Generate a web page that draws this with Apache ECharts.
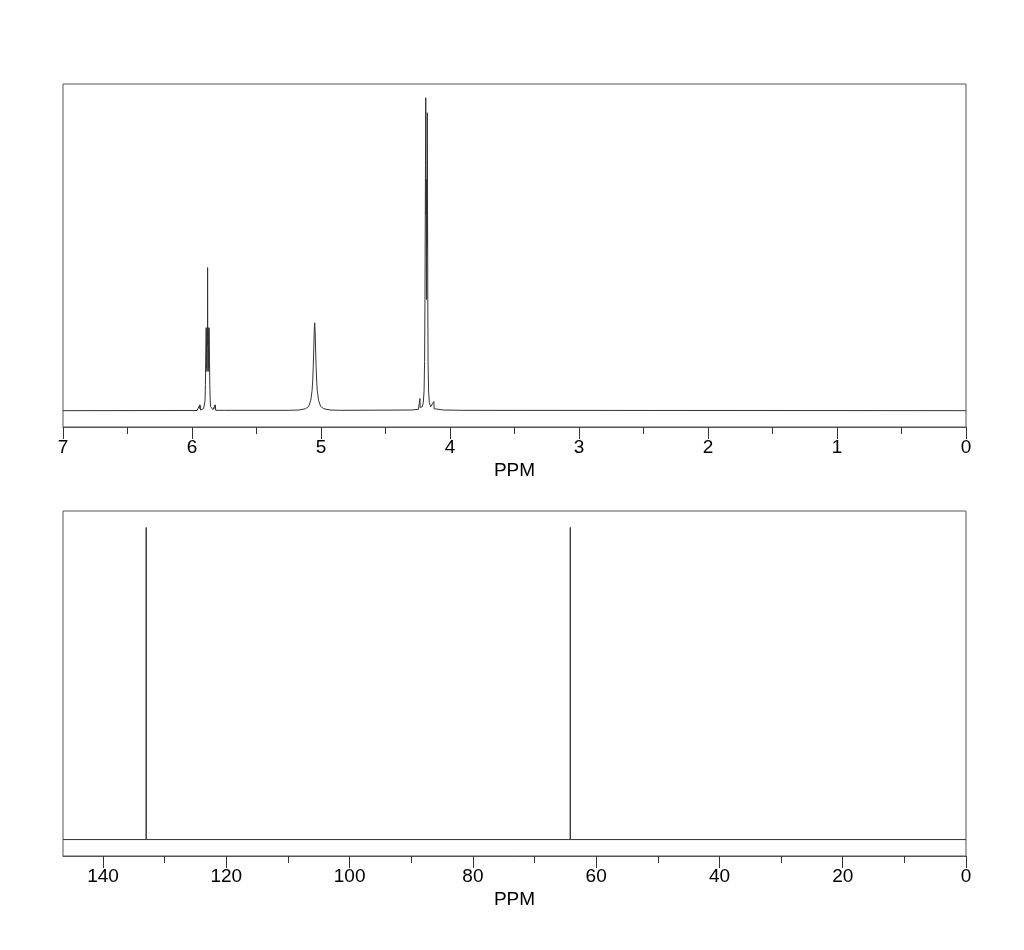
<!DOCTYPE html>
<html>
<head>
<meta charset="utf-8">
<script src="https://cdn.jsdelivr.net/npm/echarts@6/dist/echarts.min.js"></script>
<style>
html,body{margin:0;padding:0;background:#fff;}
#chart{width:1024px;height:950px;}
</style>
</head>
<body>
<div id="chart"></div>
<script>
// 1H spectrum points [ppm, relative intensity]
const h1Points = [
  [7.0,0],[5.96,0.0005],[5.945,0.001],
  [5.940,0.018],[5.9385,0.006],[5.937,0.016],[5.934,0.002],
  [5.92,0.003],[5.91,0.006],[5.903,0.012],[5.899,0.03],[5.896,0.08],[5.894,0.15],[5.892,0.20],
  [5.890,0.254],[5.888,0.13],[5.886,0.25],[5.884,0.12],[5.882,0.254],[5.880,0.20],[5.879,0.438],
  [5.878,0.20],[5.876,0.254],[5.874,0.12],[5.872,0.25],[5.870,0.13],[5.868,0.254],[5.866,0.20],
  [5.864,0.15],[5.862,0.08],[5.859,0.03],[5.855,0.012],[5.848,0.006],[5.838,0.003],
  [5.826,0.002],[5.823,0.016],[5.8215,0.006],[5.820,0.018],[5.816,0.001],
  [5.75,0.001],[5.25,0.001],[5.17,0.002],[5.12,0.006],[5.095,0.013],[5.079,0.032],[5.069,0.062],
  [5.064,0.094],[5.060,0.134],[5.057,0.176],[5.053,0.238],[5.049,0.269],[5.045,0.238],[5.041,0.176],
  [5.038,0.134],[5.034,0.094],[5.029,0.062],[5.019,0.032],[5.003,0.013],[4.978,0.006],[4.93,0.002],
  [4.85,0.001],[4.30,0.002],[4.245,0.004],[4.236,0.006],[4.233,0.037],[4.2315,0.01],[4.228,0.008],
  [4.215,0.012],[4.207,0.025],[4.201,0.06],[4.197,0.15],[4.194,0.34],[4.192,0.55],[4.190,0.75],
  [4.188,0.958],[4.186,0.60],[4.184,0.707],[4.182,0.34],[4.180,0.707],[4.178,0.50],[4.176,0.912],
  [4.174,0.60],[4.172,0.34],[4.170,0.15],[4.166,0.06],[4.160,0.025],[4.150,0.012],[4.135,0.006],
  [4.125,0.028],[4.1235,0.006],[4.115,0.003],[4.05,0.002],[3.9,0.001],[0,0]
];
// 13C spectrum points [ppm, relative intensity]
const c13Points = [
  [146.5,0],[133.001,0],[133.0,0.95],[132.999,0],[64.201,0],[64.2,0.95],[64.199,0],[0,0]
];
const h1MajorTicks = [7,6,5,4,3,2,1,0];
const h1MinorTicks = [6.5,5.5,4.5,3.5,2.5,1.5,0.5];
const c13MajorTicks = [140,120,100,80,60,40,20,0];
const c13MinorTicks = [130,110,90,70,50,30,10];
const axisTitle = 'PPM';

const FONT = '"Liberation Sans", Arial, sans-serif';
const chart = echarts.init(document.getElementById('chart'), null, {renderer:'canvas'});

function mainAxis(grid, min, max, ticks){
  return {
    gridIndex: grid, type:'value', min:min, max:max, inverse:true, position:'bottom',
    axisLine:{show:true, onZero:false, lineStyle:{color:'#555', width:1}},
    axisTick:{show:true, customValues:ticks, length:12, lineStyle:{color:'#333', width:1}},
    axisLabel:{show:true, customValues:ticks, fontSize:19, color:'#000', margin:11, fontFamily:FONT},
    splitLine:{show:false},
    name: axisTitle, nameLocation:'middle', nameGap:34,
    nameTextStyle:{fontSize:19, color:'#000', fontFamily:FONT}
  };
}
function minorAxis(grid, min, max, ticks){
  return {
    gridIndex: grid, type:'value', min:min, max:max, inverse:true, position:'bottom',
    axisLine:{show:false, onZero:false},
    axisTick:{show:true, customValues:ticks, length:7, lineStyle:{color:'#333', width:1}},
    axisLabel:{show:false},
    splitLine:{show:false}
  };
}

chart.setOption({
  animation:false,
  backgroundColor:'#fff',
  grid:[
    {left:63, right:58, top:84, height:343, show:true, borderColor:'#555', borderWidth:1, containLabel:false},
    {left:63, right:58, top:511, height:345, show:true, borderColor:'#555', borderWidth:1, containLabel:false}
  ],
  xAxis:[
    mainAxis(0, 0, 7, h1MajorTicks),
    minorAxis(0, 0, 7, h1MinorTicks),
    mainAxis(1, 0, 146.5, c13MajorTicks),
    minorAxis(1, 0, 146.5, c13MinorTicks)
  ],
  yAxis:[
    {gridIndex:0, type:'value', min:-0.05, max:1.0, show:false, splitLine:{show:false}},
    {gridIndex:1, type:'value', min:-0.05, max:1.0, show:false, splitLine:{show:false}}
  ],
  series:[
    {type:'line', xAxisIndex:0, yAxisIndex:0, data:h1Points, showSymbol:false, symbol:'none',
     lineStyle:{color:'#333', width:1}, silent:true},
    {type:'line', xAxisIndex:2, yAxisIndex:1, data:c13Points, showSymbol:false, symbol:'none',
     lineStyle:{color:'#333', width:1}, silent:true}
  ]
});
</script>
</body>
</html>
